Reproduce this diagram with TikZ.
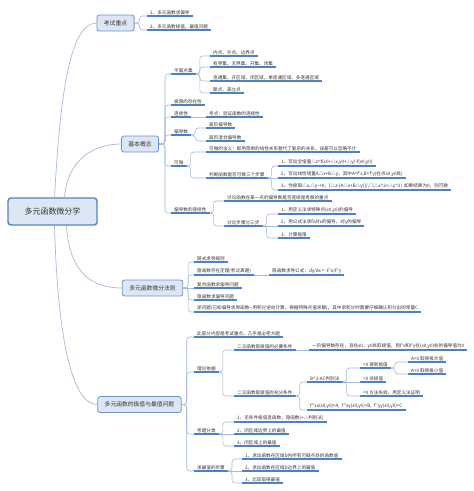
\documentclass[tikz,border=0pt]{standalone}
\usepackage{fontspec}
\setmainfont{Noto Sans CJK SC}[Ligatures=TeXOff]
\usetikzlibrary{calc}
\definecolor{txt}{HTML}{333333}
\definecolor{ulc}{HTML}{4F80C4}
\definecolor{cnc}{HTML}{A4BADB}
\definecolor{boxb}{HTML}{6F93CC}
\definecolor{boxf}{HTML}{DCE6F4}
\definecolor{rootb}{HTML}{5583C6}
\tikzset{
  tp/.style={anchor=south west, inner xsep=3pt, inner ysep=1.3pt, font=\fontsize{4.6}{5}\selectfont, text=txt},
  uline/.style={draw=ulc, line width=1.1pt},
  conn/.style={draw=cnc, line width=0.6pt, rounded corners=3pt},
  rconn/.style={draw=cnc, line width=0.7pt},
  box/.style={draw=boxb, fill=boxf, rounded corners=2.5pt, line width=0.8pt, inner xsep=7pt, minimum height=16pt, font=\fontsize{5.8}{6}\selectfont, text=txt},
  rootbox/.style={draw=rootb, fill=boxf, rounded corners=3pt, line width=1.4pt, minimum width=89pt, minimum height=27pt, font=\fontsize{8}{9}\selectfont, text=txt},
}
\newcommand{\cn}[3][4]{\draw[conn] let \p1=(#2), \p2=(#3) in (\p1) -- (\x1+#1pt,\y1) -- (\x1+#1pt,\y2) -- (\p2);}
\newcommand{\cs}[2]{\draw[conn] (#1) -- (#2);}
\begin{document}
\begin{tikzpicture}[x=1pt,y=-1pt]
\fill[white] (0,0) rectangle (474,491);
\useasboundingbox (0,0) rectangle (474,491);

% main boxes
\node[rootbox] (R) at (52.5,211.5) {多元函数微分学};
\node[box] (B1) at (115.5,23) {考试重点};
\node[box] (B2) at (140,144) {基本概念};
\node[box] (B3) at (152.5,288) {多元函数微分法则};
\node[box] (B4) at (139.5,404.5) {多元函数的极值与最值问题};

% branch 1
\node[tp] (k1) at (147,16) {1、多元函数求偏导};
\node[tp] (k2) at (147,30) {2、多元函数极值，最值问题};

% branch 2
\node[tp] (p) at (171,74) {平面点集};
\node[tp] (p1) at (210,56) {内点、外点、边界点};
\node[tp] (p2) at (210,67) {有界集、无界集、开集、闭集};
\node[tp] (p3) at (210,81) {连通集、开区域、闭区域、单连通区域、多连通区域};
\node[tp] (p4) at (210,93) {聚点、孤立点};
\node[tp] (jx) at (171,105) {极限的存在性};
\node[tp] (lx) at (171,117) {连续性};
\node[tp] (lx1) at (206,117) {考点：验证函数的连续性};
\node[tp] (pd) at (171,135) {偏导数};
\node[tp] (pd1) at (206,128) {高阶偏导数};
\node[tp] (pd2) at (206,141) {高阶混合偏导数};
\node[tp] (kw) at (171,166) {可微};
\node[tp] (kw1) at (206,152) {可微的含义：即用简单的线性关系替代了复杂的关系，误差可以忽略不计};
\node[tp] (kw2) at (206,178) {判断函数是否可微三个步骤};
\node[tp] (kw21) at (278,166) {1、写出全增量△z=f(x0+△x,y0+△y)-f(x0,y0)};
\node[tp] (kw22) at (278,178) {2、写出线性增量A△x+B△y，其中A=f'x,B=f'y(在点x0,y0处)};
\node[tp] (kw23) at (278,190) {3、作极限△x,△y→0，[△z-(A△x+B△y)]/√(△x\textasciicircum2+△y\textasciicircum2)\ \ 如果结果为0，则可微};
\node[tp] (ld) at (171,213) {偏导数的连续性};
\node[tp] (ld1) at (224,201) {讨论函数在某一点的偏导数是否连续是考察的重点};
\node[tp] (ld2) at (224,226) {讨论步骤分三步};
\node[tp] (ld21) at (278,214) {1、用定义法求特殊点(x0,y0)的偏导};
\node[tp] (ld22) at (278,226) {2、用公式法求fx对x的偏导，对y的偏导};
\node[tp] (ld23) at (278,238) {3、计算极限};

% branch 3
\node[tp] (f1) at (194,262) {链式求导规则};
\node[tp] (f2) at (194,275) {隐函数存在定理(考过真题)};
\node[tp] (f21) at (269,275) {隐函数求导公式：dy/dx = -F'x/F'y};
\node[tp] (f3) at (194,288) {复合函数求偏导问题};
\node[tp] (f4) at (194,300) {隐函数求偏导问题};
\node[tp] (f5) at (194,312) {逆问题(已知偏导求原函数--用积分逆向计算，根据特殊点值求解)，其中求积分时需要仔细确认积分出的常量C};

% branch 4
\node[tp] (e1) at (194,337) {此部分内容是考试重点，几乎是必考大题};
\node[tp] (e2) at (194,372) {理论依据};
\node[tp] (e21) at (234,350) {二元函数取极值的必要条件};
\node[tp] (e211) at (309,350) {一阶偏导数存在，且在x0，y0处取极值，则f'x和f'y在(x0,y0)处的偏导值为0};
\node[tp] (e22) at (234,396) {二元函数取极值的充分条件};
\node[tp] (e221) at (307,382) {B\textasciicircum2-AC判别法};
\node[tp] (e2211) at (360,368) {<0\ 得到极值};
\node[tp] (e22111) at (408,362) {A<0\ 取得极大值};
\node[tp] (e22112) at (408,374) {A>0\ 取得极小值};
\node[tp] (e2212) at (360,382) {>0\ 非极值};
\node[tp] (e2213) at (360,396) {=0\ 方法失效，用定义法证明};
\node[tp] (e222) at (307,410) {f''xx(x0,y0)=A,\ \ f''xy(x0,y0)=B,\ \ f''yy(x0,y0)=C};
\node[tp] (e3) at (194,434) {考题分类};
\node[tp] (e31) at (234,422) {1、无条件极值显函数，隐函数(+△判别法)};
\node[tp] (e32) at (234,434) {2、闭区域边界上的最值};
\node[tp] (e33) at (234,446) {3、闭区域上的最值};
\node[tp] (e4) at (194,471) {求最值的步骤};
\node[tp] (e41) at (242,459) {1、求出函数在区域D内所有可疑点处的函数值};
\node[tp] (e42) at (242,471) {2、求出函数在区域D边界上的最值};
\node[tp] (e43) at (242,483) {3、比较取得最值};

% underlines
\foreach \n in {k1,k2,p,p1,p2,p3,p4,jx,lx,lx1,pd,pd1,pd2,kw,kw1,kw2,kw21,kw22,kw23,ld,ld1,ld2,ld21,ld22,ld23,f1,f2,f21,f3,f4,f5,e1,e2,e21,e211,e22,e221,e2211,e22111,e22112,e2212,e2213,e222,e3,e31,e32,e33,e4,e41,e42,e43}
  {\draw[uline] (\n.south west) -- (\n.south east);}

% root connectors
\draw[rconn] ([xshift=2pt]R.north) .. controls +(5,-88) and +(-29,0) .. (B1.west);
\draw[rconn] ([xshift=12pt]R.north) .. controls +(3,-38) and +(-27,0) .. (B2.west);
\draw[rconn] ([xshift=14pt]R.south) .. controls +(3,50) and +(-27,0) .. (B3.west);
\draw[rconn] ([xshift=2pt]R.south) .. controls +(3,105) and +(-27,0) .. (B4.west);

% branch 1 connectors
\foreach \c in {k1,k2} {\cn[5]{B1.east}{\c.south west}}
% branch 2 connectors
\foreach \c in {p,jx,lx,pd,kw,ld} {\cn[6]{B2.east}{\c.south west}}
\foreach \c in {p1,p2,p3,p4} {\cn[4]{p.south east}{\c.south west}}
\cs{lx.south east}{lx1.south west}
\foreach \c in {pd1,pd2} {\cn[4]{pd.south east}{\c.south west}}
\foreach \c in {kw1,kw2} {\cn[4]{kw.south east}{\c.south west}}
\cn[4]{kw2.south east}{kw21.south west}
\cs{kw2.south east}{kw22.south west}
\cn[4]{kw2.south east}{kw23.south west}
\foreach \c in {ld1,ld2} {\cn[4]{ld.south east}{\c.south west}}
\cn[4]{ld2.south east}{ld21.south west}
\cs{ld2.south east}{ld22.south west}
\cn[4]{ld2.south east}{ld23.south west}
% branch 3 connectors
\foreach \c in {f1,f2,f4,f5} {\cn[5]{B3.east}{\c.south west}}
\cs{B3.east}{f3.south west}
\cs{f2.south east}{f21.south west}
% branch 4 connectors
\foreach \c in {e1,e2,e3,e4} {\cn[5]{B4.east}{\c.south west}}
\foreach \c in {e21,e22} {\cn[4]{e2.south east}{\c.south west}}
\cs{e21.south east}{e211.south west}
\foreach \c in {e221,e222} {\cn[4]{e22.south east}{\c.south west}}
\cn[4]{e221.south east}{e2211.south west}
\cs{e221.south east}{e2212.south west}
\cn[4]{e221.south east}{e2213.south west}
\foreach \c in {e22111,e22112} {\cn[4]{e2211.south east}{\c.south west}}
\cn[4]{e3.south east}{e31.south west}
\cs{e3.south east}{e32.south west}
\cn[4]{e3.south east}{e33.south west}
\cn[4]{e4.south east}{e41.south west}
\cs{e4.south east}{e42.south west}
\cn[4]{e4.south east}{e43.south west}
\end{tikzpicture}
\end{document}
